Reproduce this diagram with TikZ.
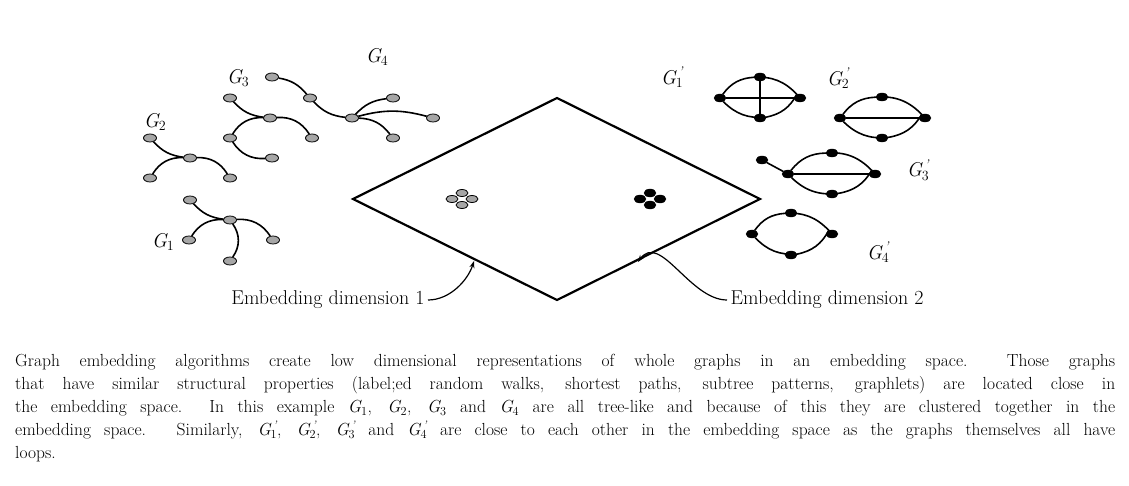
\documentclass[tikz,border=0pt]{standalone}
\usepackage{fontspec}
\newcommand{\Gs}[1]{\textit{G}\kern-0.05em\textsubscript{#1}}
\newcommand{\Gq}[1]{\textit{G}\rlap{\textsuperscript{\kern0.12em\textit{'}}}\kern-0.05em\textsubscript{#1}}
\tikzset{
 gn/.style={ellipse,draw=black,fill=gray!70,line width=0.8pt,minimum width=13pt,minimum height=8pt,inner sep=0pt},
 bn/.style={ellipse,draw=black,fill=black,minimum width=12pt,minimum height=8pt,inner sep=0pt},
 ed/.style={line width=1.6pt},
 lab/.style={font=\fontsize{20}{24}\selectfont},
 box/.style={line width=2.2pt,line join=miter},
}
\usetikzlibrary{shapes.geometric,arrows.meta}
\begin{document}
\begin{tikzpicture}[x=1pt,y=-1pt]
\useasboundingbox (0,0) rectangle (1129,486);
% diamond
\coordinate (dl) at (353,199); \coordinate (dt) at (557,98);
\coordinate (dr) at (760,199); \coordinate (db) at (557,300);
\draw[box] (dl)--(dt)--(dr)--(db)--cycle;
% G1
\node[gn] (a0) at (230,220) {}; \node[gn] (a1) at (190,200) {};
\node[gn] (a2) at (189,240) {}; \node[gn] (a3) at (273,240) {};
\node[gn] (a4) at (230,261) {};
\draw[ed] (a1) to[bend right=20] (a0);
\draw[ed] (a2) to[bend left=30] (a0);
\draw[ed] (a0) to[bend left=30] (a3);
\draw[ed] (a0) to[bend left=35] (a4);
\node[lab] (l1) at (163,242) {\Gs{1}};
% G2
\node[gn] (b0) at (190,158) {}; \node[gn] (b1) at (150,138) {};
\node[gn] (b2) at (150,178) {}; \node[gn] (b3) at (230,178) {};
\draw[ed] (b1) to[bend right=20] (b0);
\draw[ed] (b2) to[bend left=30] (b0);
\draw[ed] (b0) to[bend left=30] (b3);
\node[lab] (l2) at (155,122) {\Gs{2}};
% G3
\node[gn] (c0) at (270,118) {}; \node[gn] (c1) at (230,98) {};
\node[gn] (c2) at (312,138) {}; \node[gn] (c3) at (230,138) {};
\node[gn] (c4) at (272,158) {};
\draw[ed] (c1) to[bend right=20] (c0);
\draw[ed] (c3) to[bend left=30] (c0);
\draw[ed] (c0) to[bend left=30] (c2);
\draw[ed] (c3) to[bend right=30] (c4);
\node[lab] (l3) at (238,78) {\Gs{3}};
% G4
\node[gn] (d0) at (352,118) {}; \node[gn] (d1) at (272,77) {};
\node[gn] (d2) at (310,98) {}; \node[gn] (d3) at (393,98) {};
\node[gn] (d4) at (433,118) {}; \node[gn] (d5) at (393,138) {};
\draw[ed] (d1) to[bend left=20] (d2);
\draw[ed] (d2) to[bend right=20] (d0);
\draw[ed] (d0) to[bend left=20] (d3);
\draw[ed] (d0) to[bend left=15] (d4);
\draw[ed] (d0) to[bend left=25] (d5);
\node[lab] (l4) at (377,57) {\Gs{4}};
% clusters
\foreach \n/\dx/\dy in {n/0/-6,e/10/0,s/0/6,w/-10/0}{
 \node[gn,minimum width=12pt,minimum height=7pt] (gc\n) at (462+\dx,199+\dy) {};
 \node[bn,minimum width=12pt,minimum height=8pt] (bc\n) at (650+\dx,199+\dy) {};
}
% G'1
\node[bn] (e1) at (720,98) {}; \node[bn] (e2) at (760,77) {};
\node[bn] (e3) at (800,98) {}; \node[bn] (e4) at (760,118) {};
\draw[ed] (e1) to[bend left=25] (e2) to[bend left=25] (e3) to[bend left=25] (e4) to[bend left=25] (e1);
\draw[ed] (e1)--(e3); \draw[ed] (e2)--(e4);
\node[lab] (m1) at (672,77) {\Gq{1}};
% G'2
\node[bn] (f1) at (840,118) {}; \node[bn] (f2) at (882,97) {};
\node[bn] (f3) at (925,118) {}; \node[bn] (f4) at (882,138) {};
\draw[ed] (f1) to[bend left=25] (f2) to[bend left=25] (f3) to[bend left=25] (f4) to[bend left=25] (f1);
\draw[ed] (f1)--(f3);
\node[lab] (m2) at (838,78) {\Gq{2}};
% G'3
\node[bn] (g1) at (788,174) {}; \node[bn] (g2) at (832,153) {};
\node[bn] (g3) at (875,174) {}; \node[bn] (g4) at (832,194) {};
\node[bn] (g5) at (762,160) {};
\draw[ed] (g1) to[bend left=25] (g2) to[bend left=25] (g3) to[bend left=25] (g4) to[bend left=25] (g1);
\draw[ed] (g1)--(g3); \draw[ed] (g5)--(g1);
\node[lab] (m3) at (918,170) {\Gq{3}};
% G'4
\node[bn] (h1) at (752,234) {}; \node[bn] (h2) at (791,213) {};
\node[bn] (h3) at (832,234) {}; \node[bn] (h4) at (791,255) {};
\draw[ed] (h1) to[bend left=25] (h2) to[bend left=25] (h3) to[bend left=25] (h4) to[bend left=25] (h1);
\node[lab] (m4) at (878,252) {\Gq{4}};
% labels + arrows
\node[lab,anchor=east] (t1) at (428,300) {Embedding dimension 1};
\node[lab,anchor=west] (t2) at (727,300) {Embedding dimension 2};
\coordinate (p1) at (474,261); \coordinate (p2) at (638,262);
\draw[line width=1.2pt,-{Stealth[length=7pt,width=5pt]}] (t1.east) ..controls (450,300) and (468,280) .. (p1);
\draw[line width=1.2pt,-{Stealth[length=7pt,width=5pt]}] (t2.west) ..controls (690,300) and (660,232) .. (p2);
% caption
\node[anchor=north west,inner sep=0pt,text width=1100pt,align=justify,
 font=\fontsize{17.5}{23}\selectfont] (cap) at (15,354) {Graph embedding algorithms create low dimensional representations of whole graphs in an embedding space.\ \ Those graphs\linebreak that have similar structural properties (label;ed random walks, shortest paths, subtree patterns, graphlets) are located close in\linebreak the embedding space.\ \ In this example \Gs{1}, \Gs{2}, \Gs{3} and \Gs{4} are all tree-like and because of this they are clustered together in the\linebreak embedding space. Similarly, \Gq{1}, \Gq{2}, \Gq{3} and \Gq{4} are close to each other in the embedding space as the graphs themselves all have\linebreak loops.};
\end{tikzpicture}
\end{document}
